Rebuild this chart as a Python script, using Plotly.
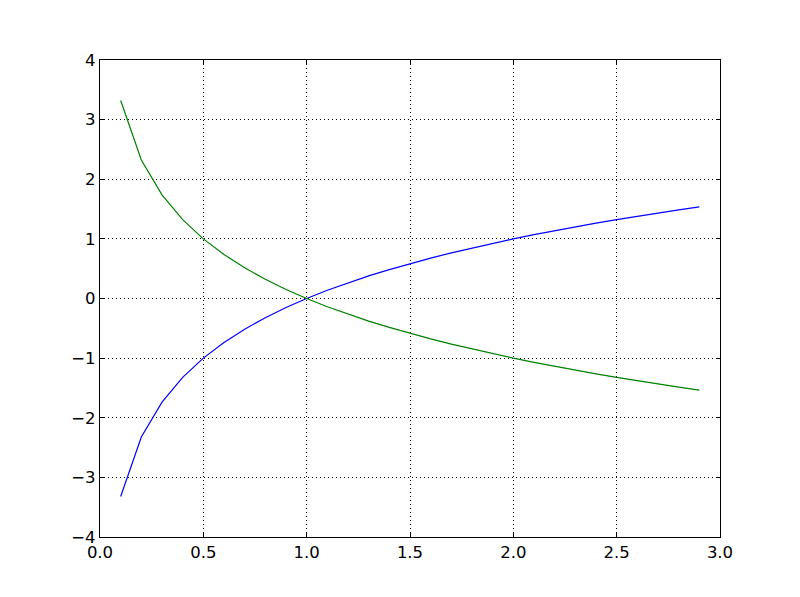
import plotly.graph_objects as go

x_vals = [0.1, 0.2, 0.3, 0.4, 0.5, 0.6, 0.7, 0.8, 0.9, 1.0,
          1.1, 1.2, 1.3, 1.4, 1.5, 1.6, 1.7, 1.8, 1.9, 2.0,
          2.1, 2.2, 2.3, 2.4, 2.5, 2.6, 2.7, 2.8, 2.9]
blue_vals = [-3.322, -2.322, -1.737, -1.322, -1.000, -0.737, -0.515, -0.322, -0.152, 0.000,
             0.138, 0.263, 0.379, 0.485, 0.585, 0.678, 0.766, 0.848, 0.926, 1.000,
             1.070, 1.138, 1.202, 1.263, 1.322, 1.379, 1.433, 1.485, 1.536]
green_vals = [3.322, 2.322, 1.737, 1.322, 1.000, 0.737, 0.515, 0.322, 0.152, 0.000,
              -0.138, -0.263, -0.379, -0.485, -0.585, -0.678, -0.766, -0.848, -0.926, -1.000,
              -1.070, -1.138, -1.202, -1.263, -1.322, -1.379, -1.433, -1.485, -1.536]
x_ticks = [0.0, 0.5, 1.0, 1.5, 2.0, 2.5, 3.0]
x_tick_text = ["0.0", "0.5", "1.0", "1.5", "2.0", "2.5", "3.0"]
y_ticks = [-4, -3, -2, -1, 0, 1, 2, 3, 4]
y_tick_text = ["\u22124", "\u22123", "\u22122", "\u22121", "0", "1", "2", "3", "4"]

fig = go.Figure()
fig.add_trace(go.Scatter(x=x_vals, y=blue_vals, mode="lines",
                         line=dict(color="#0000ff", width=1.2), showlegend=False))
fig.add_trace(go.Scatter(x=x_vals, y=green_vals, mode="lines",
                         line=dict(color="#008000", width=1.2), showlegend=False))

axis_common = dict(
    showline=True, linecolor="black", linewidth=1.2, mirror="allticks",
    ticks="inside", ticklen=4, tickcolor="black", tickwidth=1,
    showgrid=True, gridcolor="black", gridwidth=0.8, griddash="1px,3px",
    zeroline=False, tickfont=dict(family="DejaVu Sans", size=16.5, color="black"),
)
fig.update_xaxes(range=[0, 3], tickvals=x_ticks, ticktext=x_tick_text, **axis_common)
fig.update_yaxes(range=[-4, 4], tickvals=y_ticks, ticktext=y_tick_text, **axis_common)

fig.update_layout(
    width=800, height=597,
    margin=dict(l=92, r=88, t=52, b=68),
    paper_bgcolor="white", plot_bgcolor="white",
)
fig.write_html("out.html")
